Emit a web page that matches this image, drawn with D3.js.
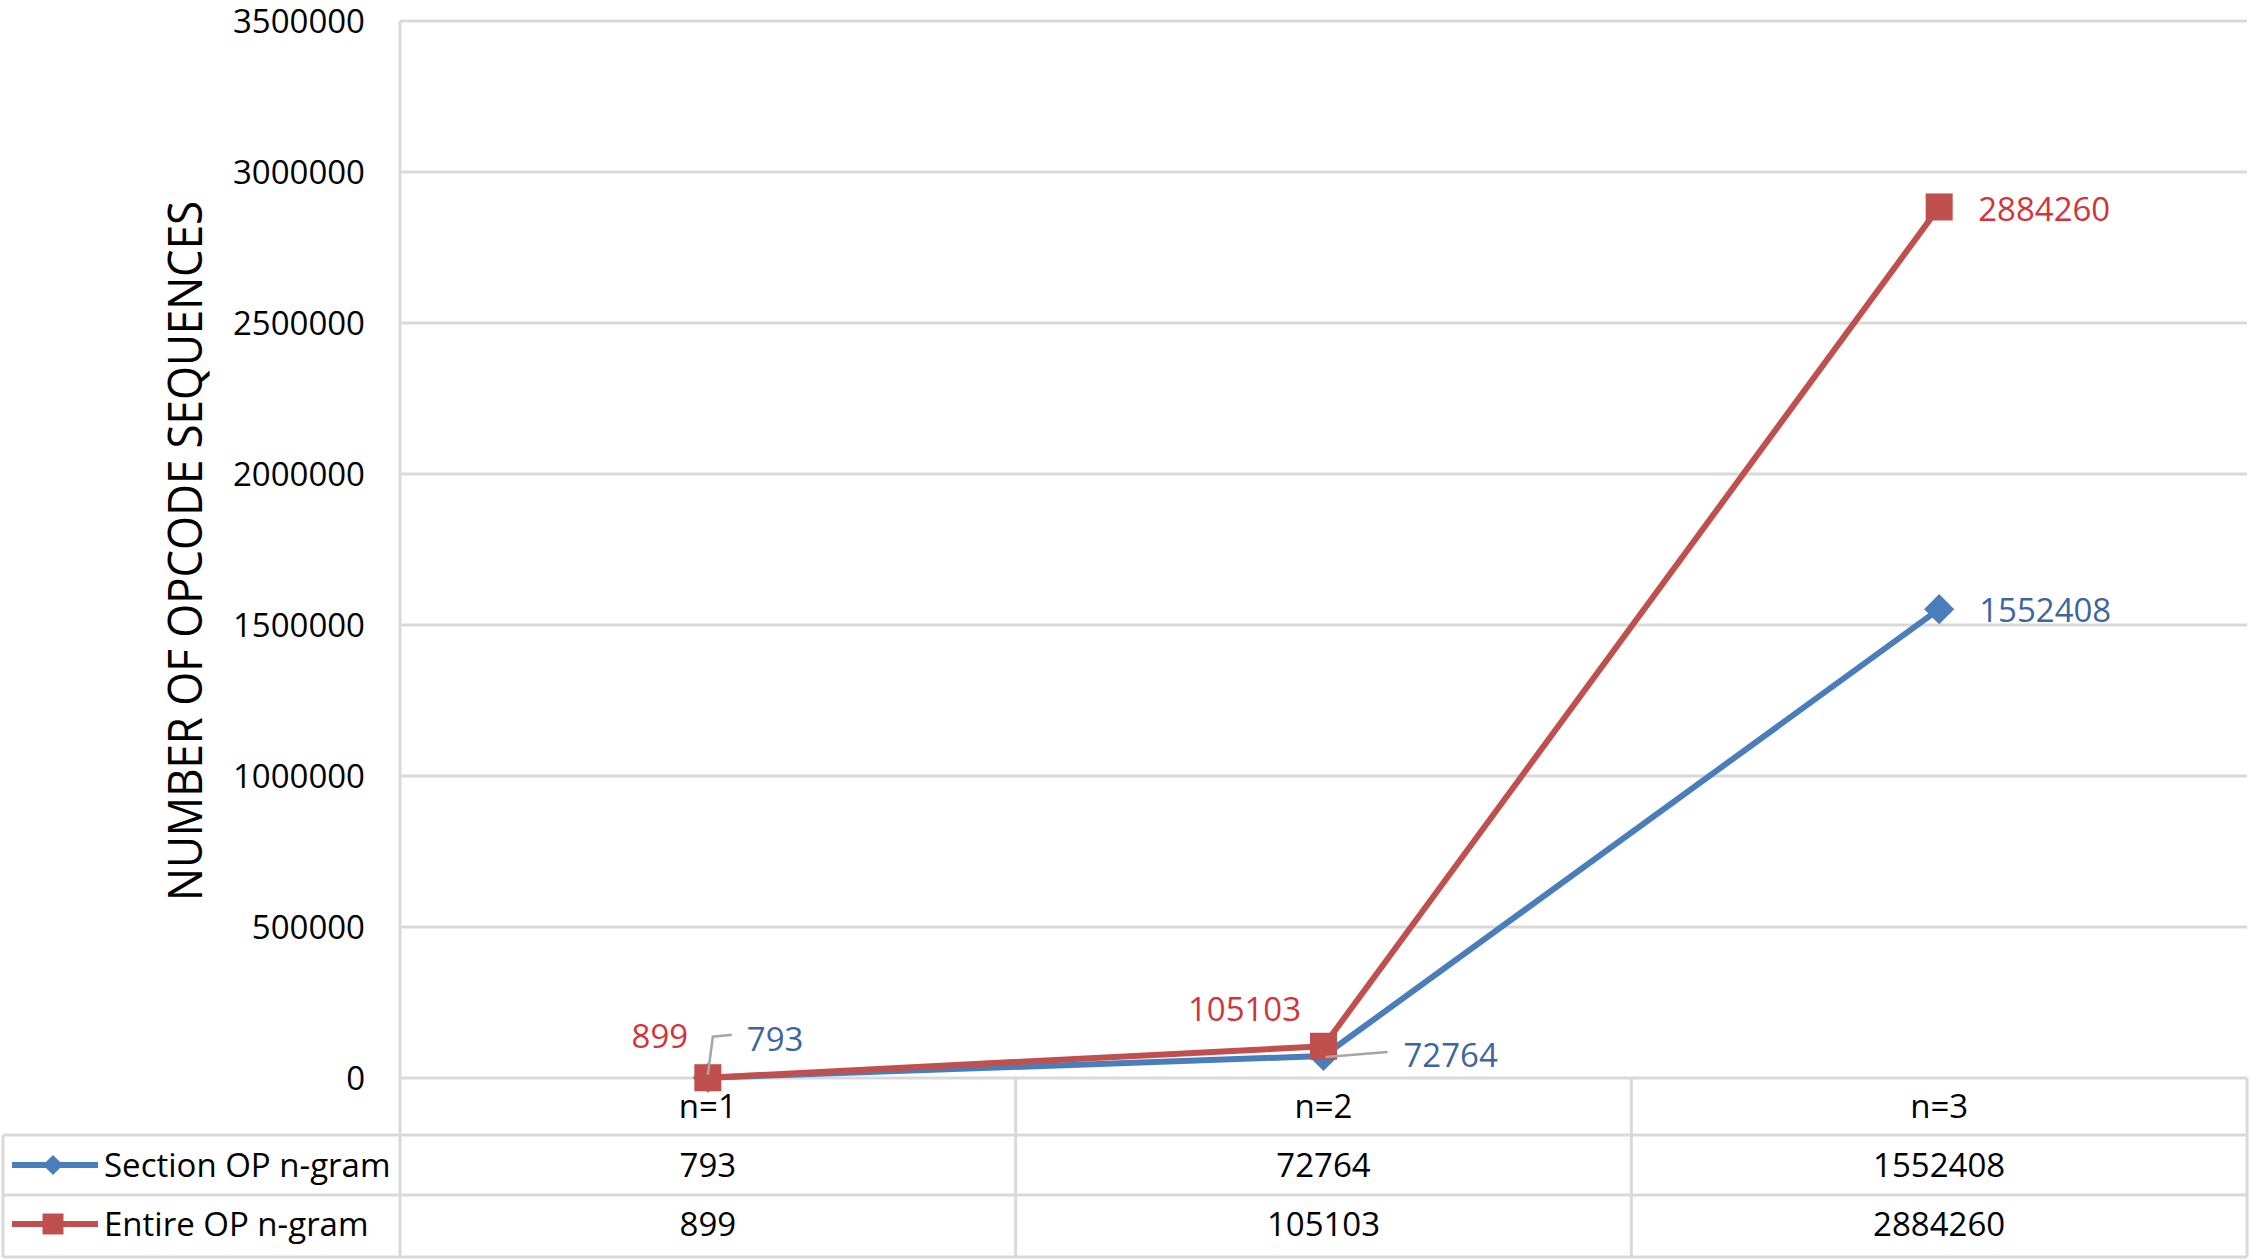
<!DOCTYPE html>
<html>
<head>
<meta charset="utf-8">
<script src="https://cdn.jsdelivr.net/npm/d3@7"></script>
<style>
  html, body { margin: 0; padding: 0; background: #fff; }
  svg text { font-family: "Open Sans", "Noto Sans", sans-serif; }
</style>
</head>
<body>
<svg id="chart" width="2250" height="1259"></svg>
<script>
// chart values
var categories = ['n=1', 'n=2', 'n=3'];
var seriesNames = ['Section OP n-gram', 'Entire OP n-gram'];
var sectionValues = [793, 72764, 1552408];
var entireValues = [899, 105103, 2884260];
var yTicks = [0, 500000, 1000000, 1500000, 2000000, 2500000, 3000000, 3500000];

var BLUE = '#4a7ebb', RED = '#c0504d';
var BLUE_TXT = '#3e659c', RED_TXT = '#d2343c';
var GRID = '#d9d9d9';
var FONT = 33;

var svg = d3.select('#chart');
var plotLeft = 400, plotRight = 2247, plotTop = 21, plotBottom = 1078;
var rows = [1135, 1195, 1257];

var x = d3.scaleBand().domain(categories).range([plotLeft, plotRight]).padding(0);
var y = d3.scaleLinear().domain([0, 3500000]).range([plotBottom, plotTop]);
var cx = function(c){ return x(c) + x.bandwidth()/2; };

// gridlines
svg.append('g').selectAll('line').data(yTicks).enter().append('line')
  .attr('x1', plotLeft).attr('x2', plotRight)
  .attr('y1', function(d){ return y(d); }).attr('y2', function(d){ return y(d); })
  .attr('stroke', GRID).attr('stroke-width', 3);

// y axis labels
var yAxis = d3.axisLeft(y).tickValues(yTicks).tickSize(0).tickPadding(35)
  .tickFormat(d3.format('d'));
var gy = svg.append('g').attr('transform', 'translate(' + plotLeft + ',0)').call(yAxis);
gy.select('.domain').remove();
gy.selectAll('text').attr('font-size', FONT).attr('fill', '#000')
  .style('font-family', '"Open Sans", sans-serif').attr('dy', '0.36em');

// y title
svg.append('text')
  .attr('transform', 'translate(202,551) rotate(-90)')
  .attr('text-anchor', 'middle')
  .attr('font-size', 47)
  .attr('textLength', 700).attr('lengthAdjust', 'spacingAndGlyphs')
  .attr('fill', '#000')
  .text('NUMBER OF OPCODE SEQUENCES');

// data table
var table = svg.append('g').attr('stroke', GRID).attr('stroke-width', 3);
rows.forEach(function(r){
  table.append('line').attr('x1', 3).attr('x2', plotRight).attr('y1', r).attr('y2', r);
});
table.append('line').attr('x1', 3).attr('x2', 3).attr('y1', rows[0]).attr('y2', rows[2]);
table.append('line').attr('x1', plotLeft).attr('x2', plotLeft).attr('y1', plotTop).attr('y2', rows[2]);
categories.forEach(function(c){
  var xe = x(c) + x.bandwidth();
  table.append('line').attr('x1', xe).attr('x2', xe).attr('y1', plotBottom).attr('y2', rows[2]);
});

svg.append('g').selectAll('text').data(categories).enter().append('text')
  .attr('x', cx).attr('y', 1106).attr('dy', '0.36em')
  .attr('text-anchor', 'middle').attr('font-size', FONT).text(function(d){ return d; });

var tableRows = [
  {name: seriesNames[0], values: sectionValues, color: BLUE, marker: d3.symbolDiamond2, msize: 260, yc: 1165},
  {name: seriesNames[1], values: entireValues, color: RED, marker: d3.symbolSquare2, msize: 560, yc: 1224}
];
tableRows.forEach(function(s){
  var g = svg.append('g');
  g.append('line').attr('x1', 12).attr('x2', 98).attr('y1', s.yc).attr('y2', s.yc)
    .attr('stroke', s.color).attr('stroke-width', 6);
  g.append('path').attr('d', d3.symbol().type(s.marker).size(s.msize)())
    .attr('transform', 'translate(53,' + s.yc + ')').attr('fill', s.color);
  g.append('text').attr('x', 104).attr('y', s.yc).attr('dy', '0.36em')
    .attr('font-size', FONT).text(s.name);
  g.selectAll('.val').data(s.values).enter().append('text')
    .attr('x', function(d, i){ return cx(categories[i]); })
    .attr('y', s.yc).attr('dy', '0.36em').attr('text-anchor', 'middle')
    .attr('font-size', FONT).text(function(d){ return d; });
});

// lines and markers
var line = d3.line().x(function(d, i){ return cx(categories[i]); }).y(function(d){ return y(d); });
var series = [
  {values: sectionValues, color: BLUE, txt: BLUE_TXT, marker: d3.symbolDiamond2, size: 580},
  {values: entireValues, color: RED, txt: RED_TXT, marker: d3.symbolSquare2, size: 930}
];
series.forEach(function(s){
  svg.append('path').datum(s.values).attr('d', line)
    .attr('fill', 'none').attr('stroke', s.color).attr('stroke-width', 6)
    .attr('stroke-linejoin', 'round');
  svg.append('g').selectAll('path').data(s.values).enter().append('path')
    .attr('d', d3.symbol().type(s.marker).size(s.size)())
    .attr('transform', function(d, i){ return 'translate(' + cx(categories[i]) + ',' + y(d) + ')'; })
    .attr('fill', s.color);
});

// data labels: offset from the point, anchor, optional leader line
var labelPlacement = [
  [ {dx: 39, dy: -39, anchor: 'start', leader: [[0,-3],[5,-41],[24,-43]]},
    {dx: 80, dy: -1, anchor: 'start', leader: [[2,1],[64,-4]]},
    {dx: 40, dy: 1, anchor: 'start'} ],
  [ {dx: -48, dy: -42, anchor: 'middle'},
    {dx: -79, dy: -37, anchor: 'middle'},
    {dx: 39, dy: 2, anchor: 'start'} ]
];
series.forEach(function(s, si){
  var g = svg.append('g');
  s.values.forEach(function(v, i){
    var px = cx(categories[i]), py = y(v), p = labelPlacement[si][i];
    if (p.leader) {
      g.append('path')
        .attr('d', d3.line()(p.leader.map(function(q){ return [px + q[0], py + q[1]]; })))
        .attr('fill', 'none').attr('stroke', '#a6a6a6').attr('stroke-width', 2.5);
    }
    g.append('text').attr('x', px + p.dx).attr('y', py + p.dy).attr('dy', '0.36em')
      .attr('text-anchor', p.anchor).attr('font-size', FONT).attr('fill', s.txt)
      .text(v);
  });
});
</script>
</body>
</html>
